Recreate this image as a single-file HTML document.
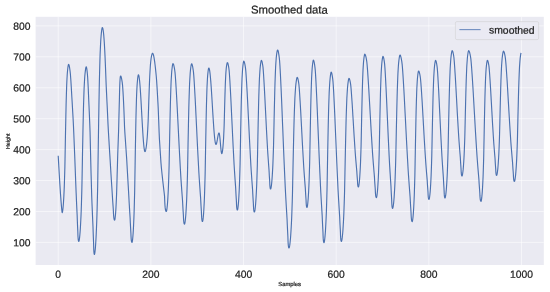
<!DOCTYPE html>
<html><head><meta charset="utf-8"><title>Smoothed data</title>
<style>
html,body{margin:0;padding:0;background:#fff;}
body{width:550px;height:292px;overflow:hidden;}
svg{display:block;font-family:"Liberation Sans",sans-serif;}
</style></head><body>
<svg width="550" height="292" viewBox="0 0 550 292">
<rect x="0" y="0" width="550" height="292" fill="#ffffff"/>
<rect x="35.60" y="16.80" width="508.20" height="248.20" fill="#eaeaf2"/>
<g stroke="#ffffff" stroke-width="0.55" fill="none"><line x1="58.20" y1="16.80" x2="58.20" y2="265.00"/><line x1="150.86" y1="16.80" x2="150.86" y2="265.00"/><line x1="243.52" y1="16.80" x2="243.52" y2="265.00"/><line x1="336.18" y1="16.80" x2="336.18" y2="265.00"/><line x1="428.84" y1="16.80" x2="428.84" y2="265.00"/><line x1="521.50" y1="16.80" x2="521.50" y2="265.00"/><line x1="35.60" y1="242.40" x2="543.80" y2="242.40"/><line x1="35.60" y1="211.47" x2="543.80" y2="211.47"/><line x1="35.60" y1="180.54" x2="543.80" y2="180.54"/><line x1="35.60" y1="149.61" x2="543.80" y2="149.61"/><line x1="35.60" y1="118.68" x2="543.80" y2="118.68"/><line x1="35.60" y1="87.75" x2="543.80" y2="87.75"/><line x1="35.60" y1="56.82" x2="543.80" y2="56.82"/><line x1="35.60" y1="25.89" x2="543.80" y2="25.89"/></g>
<path d="M58.20 155.80 L58.70 164.50 L59.25 174.00 L59.85 184.00 L60.50 194.00 L61.10 202.00 L61.60 208.00 L61.95 211.30 L62.20 212.60 L62.36 212.37 L62.54 211.69 L62.72 210.55 L62.92 208.97 L63.12 206.96 L63.33 204.52 L63.53 201.68 L63.72 198.45 L63.91 194.85 L64.10 190.90 L64.28 186.62 L64.43 182.05 L64.58 177.22 L64.73 172.14 L64.88 166.86 L64.98 161.40 L65.09 155.80 L65.19 150.09 L65.30 144.31 L65.40 138.50 L65.51 132.69 L65.63 126.91 L65.75 121.20 L65.86 115.60 L65.98 110.14 L66.10 104.86 L66.23 99.78 L66.37 94.95 L66.52 90.38 L66.66 86.10 L66.81 82.15 L67.00 78.55 L67.19 75.32 L67.38 72.48 L67.61 70.04 L67.83 68.03 L68.05 66.45 L68.25 65.31 L68.43 64.63 L68.60 64.40 L68.86 64.67 L69.14 65.49 L69.44 66.85 L69.74 68.73 L70.07 71.14 L70.39 74.05 L70.65 77.44 L70.92 81.30 L71.18 85.60 L71.45 90.32 L71.75 95.42 L72.08 100.88 L72.42 106.66 L72.76 112.72 L73.11 119.03 L73.45 125.55 L73.74 132.24 L74.02 139.06 L74.31 145.96 L74.60 152.90 L74.87 159.84 L75.13 166.74 L75.38 173.56 L75.64 180.25 L75.89 186.77 L76.15 193.08 L76.40 199.14 L76.66 204.92 L76.91 210.38 L77.16 215.48 L77.32 220.20 L77.49 224.50 L77.67 228.36 L77.83 231.75 L77.91 234.66 L78.03 237.07 L78.18 238.95 L78.35 240.31 L78.56 241.13 L78.80 241.40 L78.99 241.13 L79.19 240.33 L79.41 238.99 L79.63 237.13 L79.87 234.75 L80.11 231.88 L80.34 228.54 L80.55 224.73 L80.78 220.48 L81.00 215.83 L81.20 210.80 L81.38 205.41 L81.55 199.71 L81.73 193.73 L81.89 187.51 L82.02 181.08 L82.14 174.48 L82.26 167.76 L82.38 160.95 L82.50 154.10 L82.63 147.25 L82.77 140.44 L82.90 133.72 L83.03 127.12 L83.17 120.69 L83.31 114.47 L83.46 108.49 L83.62 102.79 L83.79 97.40 L83.96 92.37 L84.13 87.72 L84.35 83.47 L84.57 79.66 L84.79 76.32 L85.05 73.45 L85.32 71.07 L85.56 69.21 L85.79 67.87 L86.01 67.07 L86.20 66.80 L86.41 67.09 L86.64 67.95 L86.87 69.39 L87.12 71.39 L87.38 73.94 L87.64 77.02 L87.85 80.62 L88.06 84.71 L88.28 89.27 L88.49 94.27 L88.73 99.68 L88.99 105.47 L89.25 111.59 L89.52 118.02 L89.79 124.70 L90.05 131.61 L90.22 138.70 L90.39 145.93 L90.56 153.24 L90.73 160.60 L90.92 167.96 L91.12 175.27 L91.33 182.50 L91.53 189.59 L91.73 196.50 L91.98 203.18 L92.25 209.61 L92.50 215.73 L92.76 221.52 L93.00 226.93 L93.16 231.93 L93.32 236.49 L93.48 240.58 L93.62 244.18 L93.69 247.26 L93.78 249.81 L93.90 251.81 L94.04 253.25 L94.21 254.11 L94.40 254.40 L94.60 254.05 L94.82 253.00 L95.05 251.27 L95.29 248.85 L95.54 245.77 L95.80 242.04 L96.04 237.69 L96.27 232.74 L96.51 227.23 L96.75 221.19 L96.96 214.65 L97.15 207.65 L97.34 200.25 L97.53 192.48 L97.70 184.40 L97.83 176.04 L97.96 167.47 L98.09 158.74 L98.22 149.90 L98.35 141.00 L98.49 132.10 L98.63 123.26 L98.78 114.53 L98.92 105.96 L99.07 97.60 L99.21 89.52 L99.37 81.75 L99.55 74.35 L99.73 67.35 L99.91 60.81 L100.09 54.77 L100.33 49.26 L100.56 44.31 L100.79 39.96 L101.07 36.23 L101.36 33.15 L101.62 30.73 L101.87 29.00 L102.09 27.95 L102.30 27.60 L102.60 27.90 L102.90 28.79 L103.18 30.26 L103.45 32.31 L103.72 34.93 L103.98 38.10 L104.24 41.79 L104.50 45.99 L104.75 50.67 L105.00 55.81 L105.24 61.36 L105.49 67.30 L105.73 73.58 L105.98 80.18 L106.25 87.05 L106.60 94.14 L106.95 101.42 L107.31 108.84 L107.66 116.34 L108.00 123.90 L108.40 131.46 L108.85 138.96 L109.29 146.38 L109.74 153.66 L110.18 160.75 L110.59 167.62 L110.99 174.22 L111.39 180.50 L111.79 186.44 L112.14 191.99 L112.45 197.13 L112.75 201.81 L113.06 206.01 L113.31 209.70 L113.45 212.87 L113.62 215.49 L113.82 217.54 L114.05 219.01 L114.31 219.90 L114.60 220.20 L114.75 219.98 L114.92 219.31 L115.09 218.21 L115.27 216.67 L115.46 214.71 L115.66 212.34 L115.85 209.58 L116.02 206.43 L116.20 202.93 L116.38 199.08 L116.55 194.93 L116.69 190.48 L116.83 185.77 L116.98 180.83 L117.12 175.69 L117.28 170.38 L117.44 164.93 L117.59 159.38 L117.76 153.76 L117.97 148.10 L118.17 142.44 L118.37 136.82 L118.57 131.27 L118.72 125.82 L118.85 120.51 L118.97 115.37 L119.10 110.43 L119.22 105.72 L119.35 101.27 L119.46 97.12 L119.54 93.27 L119.63 89.77 L119.73 86.62 L119.83 83.86 L119.94 81.49 L120.06 79.53 L120.18 77.99 L120.31 76.89 L120.45 76.22 L120.60 76.00 L120.89 76.26 L121.20 77.02 L121.52 78.30 L121.85 80.07 L122.20 82.33 L122.53 85.07 L122.77 88.26 L123.01 91.89 L123.25 95.93 L123.48 100.37 L123.70 105.17 L123.92 110.30 L124.14 115.73 L124.35 121.43 L124.56 127.36 L124.92 133.49 L125.36 139.78 L125.81 146.18 L126.25 152.67 L126.70 159.20 L127.07 165.73 L127.44 172.22 L127.81 178.62 L128.18 184.91 L128.53 191.04 L128.86 196.97 L129.17 202.67 L129.49 208.10 L129.81 213.23 L130.11 218.03 L130.31 222.47 L130.52 226.51 L130.73 230.14 L130.91 233.33 L131.01 236.07 L131.14 238.33 L131.30 240.10 L131.50 241.38 L131.73 242.14 L132.00 242.40 L132.16 242.14 L132.34 241.37 L132.52 240.08 L132.72 238.30 L132.92 236.02 L133.13 233.27 L133.33 230.05 L133.52 226.40 L133.71 222.32 L133.90 217.86 L134.08 213.02 L134.23 207.86 L134.38 202.39 L134.53 196.64 L134.68 190.67 L134.78 184.50 L134.89 178.16 L134.99 171.71 L135.10 165.17 L135.20 158.60 L135.31 152.03 L135.43 145.49 L135.55 139.04 L135.66 132.70 L135.78 126.53 L135.90 120.56 L136.03 114.81 L136.17 109.34 L136.32 104.18 L136.46 99.34 L136.61 94.88 L136.80 90.80 L136.99 87.15 L137.18 83.93 L137.41 81.18 L137.63 78.90 L137.85 77.12 L138.05 75.83 L138.23 75.06 L138.40 74.80 L138.56 74.92 L138.73 75.27 L138.90 75.86 L139.06 76.68 L139.22 77.72 L139.39 78.99 L139.56 80.46 L139.72 82.13 L139.88 84.00 L140.05 86.05 L140.22 88.26 L140.38 90.63 L140.55 93.14 L140.71 95.77 L140.88 98.50 L141.04 101.33 L141.21 104.24 L141.37 107.19 L141.53 110.19 L141.70 113.20 L141.87 116.21 L142.03 119.21 L142.19 122.16 L142.36 125.07 L142.53 127.90 L142.69 130.63 L142.85 133.26 L143.02 135.77 L143.19 138.14 L143.35 140.35 L143.52 142.40 L143.68 144.27 L143.84 145.94 L144.01 147.41 L144.18 148.68 L144.34 149.72 L144.50 150.54 L144.67 151.13 L144.84 151.48 L145.00 151.60 L145.19 151.45 L145.40 150.99 L145.61 150.24 L145.84 149.19 L146.08 147.86 L146.33 146.24 L146.56 144.36 L146.78 142.21 L147.00 139.82 L147.23 137.20 L147.43 134.37 L147.61 131.34 L147.79 128.13 L147.97 124.76 L148.14 121.26 L148.26 117.64 L148.38 113.92 L148.51 110.14 L148.63 106.31 L148.75 102.45 L148.88 98.59 L149.02 94.76 L149.15 90.98 L149.29 87.26 L149.43 83.64 L149.57 80.14 L149.72 76.77 L149.89 73.56 L150.06 70.53 L150.23 67.70 L150.40 65.08 L150.63 62.69 L150.85 60.54 L151.07 58.66 L151.33 57.04 L151.60 55.71 L151.85 54.66 L152.09 53.91 L152.30 53.45 L152.50 53.30 L152.85 53.54 L153.20 54.27 L153.57 55.49 L153.93 57.17 L154.31 59.32 L154.69 61.92 L155.08 64.96 L155.47 68.41 L155.87 72.25 L156.28 76.47 L156.64 81.03 L156.96 85.91 L157.27 91.07 L157.58 96.49 L157.89 102.13 L158.20 107.96 L158.44 113.93 L158.67 120.03 L158.90 126.19 L159.13 132.40 L159.40 138.61 L159.79 144.77 L160.18 150.87 L160.57 156.84 L160.96 162.67 L161.44 168.31 L162.00 173.73 L162.56 178.89 L163.10 183.77 L163.63 188.33 L164.14 192.55 L164.57 196.39 L164.68 199.84 L164.82 202.88 L164.98 205.48 L165.18 207.63 L165.41 209.31 L165.68 210.53 L165.97 211.26 L166.30 211.50 L166.47 211.27 L166.66 210.59 L166.85 209.46 L167.05 207.88 L167.27 205.87 L167.49 203.44 L167.69 200.60 L167.89 197.38 L168.09 193.78 L168.29 189.84 L168.47 185.58 L168.63 181.02 L168.79 176.19 L168.95 171.12 L169.10 165.85 L169.21 160.40 L169.32 154.81 L169.43 149.12 L169.54 143.35 L169.65 137.55 L169.77 131.75 L169.89 125.98 L170.01 120.29 L170.13 114.70 L170.26 109.25 L170.38 103.98 L170.52 98.91 L170.67 94.08 L170.82 89.52 L170.97 85.26 L171.12 81.32 L171.33 77.72 L171.53 74.50 L171.72 71.66 L171.96 69.23 L172.20 67.22 L172.42 65.64 L172.63 64.51 L172.82 63.83 L173.00 63.60 L173.30 63.85 L173.61 64.59 L173.94 65.82 L174.29 67.53 L174.66 69.71 L175.01 72.35 L175.28 75.43 L175.54 78.94 L175.80 82.84 L176.06 87.12 L176.34 91.75 L176.62 96.70 L176.91 101.94 L177.20 107.44 L177.49 113.17 L177.78 119.09 L178.09 125.15 L178.40 131.34 L178.71 137.60 L179.02 143.90 L179.35 150.20 L179.69 156.46 L180.02 162.65 L180.36 168.71 L180.69 174.63 L181.06 180.36 L181.44 185.86 L181.82 191.10 L182.19 196.05 L182.54 200.68 L182.76 204.96 L182.98 208.86 L183.21 212.37 L183.40 215.45 L183.50 218.09 L183.63 220.27 L183.80 221.98 L184.00 223.21 L184.23 223.95 L184.50 224.20 L184.68 223.95 L184.88 223.21 L185.08 221.98 L185.30 220.27 L185.52 218.10 L185.76 215.46 L185.97 212.38 L186.18 208.88 L186.40 204.98 L186.61 200.71 L186.80 196.09 L186.97 191.14 L187.14 185.90 L187.31 180.41 L187.47 174.69 L187.59 168.78 L187.70 162.72 L187.82 156.55 L187.94 150.29 L188.05 144.00 L188.18 137.71 L188.31 131.45 L188.43 125.28 L188.56 119.22 L188.69 113.31 L188.82 107.59 L188.97 102.10 L189.13 96.86 L189.29 91.91 L189.45 87.29 L189.61 83.02 L189.83 79.12 L190.04 75.62 L190.24 72.54 L190.50 69.90 L190.75 67.73 L190.99 66.02 L191.21 64.79 L191.41 64.05 L191.60 63.80 L191.88 64.04 L192.18 64.77 L192.49 65.98 L192.82 67.66 L193.17 69.80 L193.50 72.39 L193.76 75.42 L194.01 78.86 L194.26 82.69 L194.50 86.89 L194.76 91.44 L195.03 96.30 L195.31 101.45 L195.58 106.85 L195.85 112.48 L196.13 118.28 L196.42 124.24 L196.72 130.32 L197.01 136.46 L197.31 142.65 L197.62 148.84 L197.94 154.98 L198.26 161.06 L198.58 167.02 L198.89 172.82 L199.24 178.45 L199.60 183.85 L199.96 189.00 L200.31 193.86 L200.64 198.41 L200.85 202.61 L201.06 206.44 L201.28 209.88 L201.46 212.91 L201.55 215.50 L201.68 217.64 L201.83 219.32 L202.02 220.53 L202.24 221.26 L202.50 221.50 L202.66 221.26 L202.83 220.56 L203.02 219.38 L203.21 217.74 L203.41 215.66 L203.62 213.13 L203.81 210.19 L203.99 206.84 L204.18 203.11 L204.37 199.02 L204.54 194.60 L204.69 189.86 L204.84 184.85 L204.99 179.59 L205.13 174.12 L205.24 168.47 L205.34 162.67 L205.45 156.76 L205.55 150.77 L205.65 144.75 L205.76 138.73 L205.88 132.74 L205.99 126.83 L206.10 121.03 L206.22 115.38 L206.34 109.91 L206.46 104.65 L206.61 99.64 L206.75 94.90 L206.89 90.48 L207.04 86.39 L207.23 82.66 L207.41 79.31 L207.60 76.37 L207.82 73.84 L208.05 71.76 L208.26 70.12 L208.45 68.94 L208.63 68.24 L208.80 68.00 L208.98 68.12 L209.16 68.47 L209.34 69.06 L209.52 69.87 L209.70 70.91 L209.88 72.16 L210.06 73.63 L210.24 75.30 L210.42 77.15 L210.60 79.19 L210.78 81.39 L210.96 83.75 L211.14 86.24 L211.32 88.86 L211.50 91.58 L211.68 94.40 L211.86 97.28 L212.04 100.22 L212.22 103.20 L212.40 106.20 L212.58 109.20 L212.76 112.18 L212.94 115.12 L213.12 118.00 L213.30 120.82 L213.48 123.54 L213.66 126.16 L213.84 128.65 L214.02 131.01 L214.20 133.21 L214.38 135.25 L214.56 137.10 L214.74 138.77 L214.92 140.24 L215.10 141.49 L215.28 142.53 L215.46 143.34 L215.64 143.93 L215.82 144.28 L216.00 144.40 L216.07 144.38 L216.15 144.33 L216.22 144.24 L216.30 144.12 L216.38 143.97 L216.45 143.78 L216.53 143.56 L216.60 143.31 L216.68 143.03 L216.75 142.73 L216.82 142.40 L216.90 142.05 L216.97 141.68 L217.05 141.29 L217.12 140.88 L217.20 140.46 L217.28 140.03 L217.35 139.59 L217.43 139.15 L217.50 138.70 L217.57 138.25 L217.65 137.81 L217.72 137.37 L217.80 136.94 L217.88 136.52 L217.95 136.11 L218.03 135.72 L218.10 135.35 L218.18 135.00 L218.25 134.67 L218.32 134.37 L218.40 134.09 L218.47 133.84 L218.55 133.62 L218.62 133.43 L218.70 133.28 L218.78 133.16 L218.85 133.07 L218.93 133.02 L219.00 133.00 L219.07 133.03 L219.14 133.13 L219.21 133.28 L219.28 133.50 L219.35 133.78 L219.42 134.12 L219.49 134.52 L219.56 134.97 L219.63 135.47 L219.70 136.02 L219.77 136.61 L219.84 137.25 L219.91 137.92 L219.98 138.62 L220.05 139.36 L220.12 140.12 L220.19 140.90 L220.26 141.69 L220.33 142.49 L220.40 143.30 L220.47 144.11 L220.54 144.91 L220.61 145.70 L220.68 146.48 L220.75 147.24 L220.82 147.98 L220.89 148.68 L220.96 149.35 L221.03 149.99 L221.10 150.58 L221.17 151.13 L221.24 151.63 L221.31 152.08 L221.38 152.48 L221.45 152.82 L221.52 153.10 L221.59 153.32 L221.66 153.47 L221.73 153.57 L221.80 153.60 L221.94 153.46 L222.10 153.04 L222.26 152.34 L222.43 151.37 L222.61 150.14 L222.79 148.64 L222.96 146.90 L223.13 144.91 L223.29 142.70 L223.46 140.27 L223.62 137.65 L223.75 134.84 L223.88 131.87 L224.02 128.76 L224.14 125.51 L224.23 122.16 L224.33 118.72 L224.42 115.22 L224.51 111.67 L224.60 108.10 L224.70 104.53 L224.80 100.98 L224.90 97.48 L225.00 94.04 L225.11 90.69 L225.21 87.44 L225.32 84.33 L225.45 81.36 L225.58 78.55 L225.70 75.93 L225.83 73.50 L226.00 71.29 L226.17 69.30 L226.33 67.56 L226.53 66.06 L226.73 64.83 L226.92 63.86 L227.09 63.16 L227.25 62.74 L227.40 62.60 L227.66 62.83 L227.93 63.51 L228.22 64.64 L228.52 66.21 L228.84 68.21 L229.15 70.63 L229.38 73.46 L229.61 76.68 L229.84 80.26 L230.06 84.19 L230.30 88.44 L230.55 92.98 L230.80 97.79 L231.05 102.84 L231.30 108.10 L231.55 113.53 L231.82 119.10 L232.10 124.77 L232.37 130.52 L232.64 136.30 L232.92 142.08 L233.21 147.83 L233.51 153.50 L233.80 159.07 L234.09 164.50 L234.41 169.76 L234.74 174.81 L235.07 179.62 L235.39 184.16 L235.69 188.41 L235.88 192.34 L236.08 195.92 L236.28 199.14 L236.44 201.97 L236.53 204.39 L236.64 206.39 L236.79 207.96 L236.96 209.09 L237.17 209.77 L237.40 210.00 L237.56 209.77 L237.74 209.08 L237.92 207.94 L238.12 206.36 L238.32 204.34 L238.53 201.89 L238.73 199.04 L238.92 195.79 L239.11 192.17 L239.30 188.21 L239.48 183.92 L239.63 179.33 L239.78 174.47 L239.93 169.38 L240.08 164.07 L240.18 158.59 L240.29 152.97 L240.39 147.24 L240.50 141.44 L240.60 135.60 L240.71 129.76 L240.83 123.96 L240.95 118.23 L241.06 112.61 L241.18 107.13 L241.30 101.82 L241.43 96.73 L241.57 91.87 L241.72 87.28 L241.86 82.99 L242.01 79.03 L242.20 75.41 L242.39 72.16 L242.58 69.31 L242.81 66.86 L243.03 64.84 L243.25 63.26 L243.45 62.12 L243.63 61.43 L243.80 61.20 L244.07 61.43 L244.36 62.13 L244.67 63.28 L244.99 64.89 L245.33 66.94 L245.65 69.42 L245.90 72.31 L246.14 75.60 L246.38 79.27 L246.62 83.28 L246.87 87.63 L247.14 92.28 L247.40 97.20 L247.67 102.37 L247.93 107.75 L248.20 113.30 L248.49 119.00 L248.78 124.80 L249.07 130.68 L249.35 136.60 L249.65 142.52 L249.96 148.40 L250.27 154.20 L250.58 159.90 L250.89 165.45 L251.23 170.83 L251.58 176.00 L251.93 180.92 L252.27 185.57 L252.59 189.92 L252.79 193.93 L253.00 197.60 L253.21 200.89 L253.39 203.78 L253.48 206.26 L253.60 208.31 L253.75 209.92 L253.94 211.07 L254.15 211.77 L254.40 212.00 L254.58 211.77 L254.77 211.07 L254.97 209.91 L255.19 208.29 L255.41 206.23 L255.64 203.74 L255.85 200.83 L256.06 197.52 L256.27 193.84 L256.48 189.80 L256.67 185.43 L256.84 180.75 L257.01 175.81 L257.17 170.61 L257.33 165.21 L257.44 159.62 L257.56 153.90 L257.67 148.06 L257.79 142.15 L257.90 136.20 L258.03 130.25 L258.15 124.34 L258.28 118.50 L258.41 112.78 L258.53 107.19 L258.66 101.79 L258.80 96.59 L258.96 91.65 L259.12 86.97 L259.28 82.60 L259.44 78.56 L259.65 74.88 L259.86 71.57 L260.06 68.66 L260.31 66.17 L260.56 64.11 L260.80 62.49 L261.02 61.33 L261.22 60.63 L261.40 60.40 L261.64 60.60 L261.89 61.19 L262.15 62.18 L262.43 63.55 L262.73 65.29 L263.01 67.41 L263.22 69.88 L263.43 72.68 L263.64 75.81 L263.85 79.23 L264.07 82.94 L264.30 86.91 L264.53 91.10 L264.76 95.51 L264.99 100.09 L265.22 104.83 L265.47 109.69 L265.72 114.64 L265.97 119.66 L266.22 124.70 L266.48 129.74 L266.75 134.76 L267.02 139.71 L267.29 144.57 L267.56 149.31 L267.85 153.89 L268.16 158.30 L268.46 162.49 L268.75 166.46 L269.03 170.17 L269.20 173.59 L269.38 176.72 L269.57 179.52 L269.72 181.99 L269.80 184.11 L269.91 185.85 L270.04 187.22 L270.20 188.21 L270.38 188.80 L270.60 189.00 L270.78 188.79 L270.97 188.14 L271.17 187.08 L271.39 185.60 L271.61 183.71 L271.84 181.42 L272.05 178.76 L272.26 175.73 L272.47 172.35 L272.68 168.64 L272.87 164.64 L273.04 160.35 L273.21 155.81 L273.37 151.05 L273.53 146.10 L273.64 140.98 L273.76 135.72 L273.87 130.37 L273.99 124.95 L274.10 119.50 L274.23 114.05 L274.35 108.63 L274.48 103.28 L274.61 98.02 L274.73 92.90 L274.86 87.95 L275.00 83.19 L275.16 78.65 L275.32 74.36 L275.48 70.36 L275.64 66.65 L275.85 63.27 L276.06 60.24 L276.26 57.58 L276.51 55.29 L276.76 53.40 L277.00 51.92 L277.22 50.86 L277.42 50.21 L277.60 50.00 L277.89 50.31 L278.21 51.22 L278.53 52.74 L278.88 54.85 L279.24 57.54 L279.59 60.79 L279.86 64.59 L280.12 68.91 L280.38 73.72 L280.64 79.00 L280.91 84.70 L281.19 90.81 L281.48 97.27 L281.76 104.05 L282.05 111.11 L282.33 118.41 L282.64 125.89 L282.95 133.51 L283.26 141.23 L283.57 149.00 L283.89 156.77 L284.23 164.49 L284.56 172.11 L284.90 179.59 L285.23 186.89 L285.59 193.95 L285.97 200.73 L286.34 207.19 L286.71 213.30 L287.05 219.00 L287.27 224.28 L287.49 229.09 L287.72 233.41 L287.91 237.21 L288.01 240.46 L288.14 243.15 L288.30 245.26 L288.50 246.78 L288.73 247.69 L289.00 248.00 L289.21 247.74 L289.44 246.95 L289.67 245.64 L289.92 243.83 L290.18 241.51 L290.45 238.70 L290.70 235.43 L290.94 231.71 L291.19 227.56 L291.44 223.02 L291.66 218.10 L291.86 212.84 L292.05 207.27 L292.25 201.43 L292.43 195.34 L292.57 189.06 L292.70 182.61 L292.83 176.04 L292.97 169.39 L293.10 162.70 L293.25 156.01 L293.39 149.36 L293.54 142.79 L293.69 136.34 L293.84 130.06 L293.99 123.97 L294.16 118.13 L294.34 112.56 L294.53 107.30 L294.72 102.38 L294.90 97.84 L295.15 93.69 L295.40 89.97 L295.63 86.70 L295.93 83.89 L296.22 81.57 L296.49 79.76 L296.75 78.45 L296.98 77.66 L297.20 77.40 L297.45 77.60 L297.72 78.20 L298.00 79.20 L298.30 80.58 L298.61 82.35 L298.91 84.48 L299.14 86.98 L299.36 89.81 L299.59 92.97 L299.81 96.44 L300.04 100.19 L300.29 104.19 L300.53 108.44 L300.78 112.89 L301.02 117.53 L301.27 122.31 L301.54 127.23 L301.80 132.23 L302.07 137.30 L302.33 142.40 L302.61 147.50 L302.90 152.57 L303.19 157.57 L303.47 162.49 L303.76 167.27 L304.07 171.91 L304.40 176.36 L304.72 180.61 L305.03 184.61 L305.33 188.36 L305.51 191.83 L305.71 194.99 L305.90 197.82 L306.06 200.32 L306.15 202.45 L306.26 204.22 L306.40 205.60 L306.57 206.60 L306.77 207.20 L307.00 207.40 L307.16 207.17 L307.34 206.49 L307.52 205.37 L307.72 203.80 L307.92 201.80 L308.13 199.38 L308.33 196.55 L308.52 193.34 L308.71 189.77 L308.90 185.84 L309.08 181.60 L309.23 177.06 L309.38 172.26 L309.53 167.21 L309.68 161.97 L309.78 156.54 L309.89 150.98 L309.99 145.31 L310.10 139.57 L310.20 133.80 L310.31 128.03 L310.43 122.29 L310.55 116.62 L310.66 111.06 L310.78 105.63 L310.90 100.39 L311.03 95.34 L311.17 90.54 L311.32 86.00 L311.46 81.76 L311.61 77.83 L311.80 74.26 L311.99 71.05 L312.18 68.22 L312.41 65.80 L312.63 63.80 L312.85 62.23 L313.05 61.11 L313.23 60.43 L313.40 60.20 L313.67 60.48 L313.96 61.32 L314.27 62.72 L314.59 64.66 L314.93 67.14 L315.25 70.14 L315.50 73.64 L315.74 77.62 L315.98 82.05 L316.22 86.91 L316.47 92.17 L316.74 97.79 L317.00 103.75 L317.27 110.00 L317.53 116.50 L317.80 123.22 L318.09 130.11 L318.38 137.13 L318.67 144.24 L318.95 151.40 L319.25 158.56 L319.56 165.67 L319.87 172.69 L320.18 179.58 L320.49 186.30 L320.83 192.80 L321.18 199.05 L321.53 205.01 L321.87 210.63 L322.19 215.89 L322.39 220.75 L322.60 225.18 L322.81 229.16 L322.99 232.66 L323.08 235.66 L323.20 238.14 L323.35 240.08 L323.54 241.48 L323.75 242.32 L324.00 242.60 L324.19 242.34 L324.38 241.55 L324.59 240.25 L324.81 238.43 L325.04 236.11 L325.28 233.31 L325.50 230.04 L325.71 226.33 L325.92 222.19 L326.14 217.65 L326.34 212.73 L326.51 207.48 L326.68 201.92 L326.85 196.08 L327.01 190.00 L327.13 183.73 L327.25 177.29 L327.37 170.73 L327.48 164.08 L327.60 157.40 L327.73 150.72 L327.86 144.07 L327.99 137.51 L328.12 131.07 L328.25 124.80 L328.39 118.72 L328.53 112.88 L328.69 107.32 L328.85 102.07 L329.02 97.15 L329.18 92.61 L329.40 88.47 L329.62 84.76 L329.83 81.49 L330.08 78.69 L330.34 76.37 L330.58 74.55 L330.80 73.25 L331.01 72.46 L331.20 72.20 L331.46 72.46 L331.74 73.24 L332.04 74.54 L332.34 76.34 L332.67 78.64 L332.98 81.42 L333.22 84.67 L333.45 88.36 L333.69 92.47 L333.92 96.98 L334.16 101.86 L334.41 107.07 L334.67 112.60 L334.92 118.39 L335.18 124.42 L335.44 130.66 L335.71 137.05 L335.99 143.57 L336.27 150.16 L336.54 156.80 L336.83 163.44 L337.13 170.03 L337.43 176.55 L337.73 182.94 L338.02 189.18 L338.35 195.21 L338.69 201.00 L339.02 206.53 L339.35 211.74 L339.66 216.62 L339.85 221.13 L340.05 225.24 L340.26 228.93 L340.43 232.18 L340.51 234.96 L340.63 237.26 L340.78 239.06 L340.95 240.36 L341.16 241.14 L341.40 241.40 L341.60 241.15 L341.80 240.40 L342.02 239.15 L342.25 237.41 L342.49 235.20 L342.75 232.52 L342.98 229.39 L343.20 225.83 L343.43 221.87 L343.66 217.53 L343.87 212.83 L344.05 207.80 L344.23 202.48 L344.41 196.90 L344.58 191.09 L344.70 185.08 L344.83 178.93 L344.95 172.65 L345.08 166.29 L345.20 159.90 L345.34 153.51 L345.47 147.15 L345.61 140.87 L345.75 134.72 L345.89 128.71 L346.03 122.90 L346.18 117.32 L346.35 112.00 L346.52 106.97 L346.70 102.27 L346.87 97.93 L347.10 93.97 L347.33 90.41 L347.55 87.28 L347.82 84.60 L348.09 82.39 L348.35 80.65 L348.58 79.40 L348.80 78.65 L349.00 78.40 L349.24 78.57 L349.50 79.07 L349.77 79.90 L350.06 81.06 L350.35 82.53 L350.64 84.32 L350.86 86.40 L351.08 88.77 L351.29 91.41 L351.50 94.30 L351.73 97.43 L351.96 100.78 L352.20 104.33 L352.43 108.05 L352.67 111.92 L352.90 115.92 L353.16 120.02 L353.41 124.21 L353.67 128.44 L353.92 132.70 L354.19 136.96 L354.47 141.19 L354.74 145.38 L355.02 149.48 L355.29 153.48 L355.59 157.35 L355.90 161.07 L356.21 164.62 L356.51 167.97 L356.79 171.10 L356.97 173.99 L357.16 176.63 L357.35 179.00 L357.50 181.08 L357.58 182.87 L357.69 184.34 L357.82 185.50 L357.99 186.33 L358.18 186.83 L358.40 187.00 L358.56 186.80 L358.74 186.18 L358.92 185.17 L359.12 183.75 L359.32 181.95 L359.53 179.76 L359.73 177.22 L359.92 174.32 L360.11 171.09 L360.30 167.55 L360.48 163.72 L360.63 159.63 L360.78 155.29 L360.93 150.74 L361.08 146.01 L361.18 141.12 L361.29 136.10 L361.39 130.99 L361.50 125.81 L361.60 120.60 L361.71 115.39 L361.83 110.21 L361.95 105.10 L362.06 100.08 L362.18 95.19 L362.30 90.46 L362.43 85.91 L362.57 81.57 L362.72 77.48 L362.86 73.65 L363.01 70.11 L363.20 66.88 L363.39 63.98 L363.58 61.44 L363.81 59.25 L364.03 57.45 L364.25 56.03 L364.45 55.02 L364.63 54.40 L364.80 54.20 L365.10 54.42 L365.42 55.08 L365.75 56.18 L366.10 57.71 L366.47 59.66 L366.83 62.01 L367.10 64.77 L367.36 67.89 L367.63 71.38 L367.89 75.20 L368.16 79.33 L368.45 83.76 L368.74 88.44 L369.03 93.35 L369.32 98.46 L369.62 103.74 L369.93 109.16 L370.25 114.68 L370.56 120.27 L370.88 125.90 L371.20 131.53 L371.55 137.12 L371.88 142.64 L372.22 148.06 L372.56 153.34 L372.94 158.45 L373.32 163.36 L373.70 168.04 L374.07 172.47 L374.42 176.60 L374.64 180.42 L374.87 183.91 L375.10 187.03 L375.29 189.79 L375.39 192.14 L375.52 194.09 L375.69 195.62 L375.89 196.72 L376.13 197.38 L376.40 197.60 L376.57 197.38 L376.75 196.73 L376.94 195.65 L377.14 194.14 L377.35 192.23 L377.57 189.91 L377.77 187.20 L377.96 184.12 L378.16 180.68 L378.36 176.92 L378.54 172.85 L378.70 168.50 L378.86 163.89 L379.01 159.05 L379.16 154.02 L379.27 148.82 L379.38 143.48 L379.49 138.04 L379.59 132.54 L379.70 127.00 L379.82 121.46 L379.94 115.96 L380.06 110.52 L380.18 105.18 L380.30 99.98 L380.42 94.95 L380.55 90.11 L380.70 85.50 L380.85 81.15 L381.00 77.08 L381.15 73.32 L381.35 69.88 L381.55 66.80 L381.74 64.09 L381.97 61.77 L382.21 59.86 L382.43 58.35 L382.64 57.27 L382.83 56.62 L383.00 56.40 L383.25 56.63 L383.51 57.34 L383.79 58.50 L384.08 60.12 L384.38 62.19 L384.68 64.68 L384.90 67.60 L385.12 70.91 L385.34 74.61 L385.56 78.66 L385.78 83.04 L386.02 87.73 L386.26 92.69 L386.50 97.90 L386.74 103.32 L386.99 108.91 L387.25 114.66 L387.51 120.51 L387.77 126.44 L388.03 132.40 L388.30 138.36 L388.58 144.29 L388.86 150.14 L389.14 155.89 L389.42 161.48 L389.73 166.90 L390.05 172.11 L390.36 177.07 L390.67 181.76 L390.96 186.14 L391.14 190.19 L391.33 193.89 L391.53 197.20 L391.68 200.12 L391.77 202.61 L391.87 204.68 L392.01 206.30 L392.18 207.46 L392.37 208.17 L392.60 208.40 L392.79 208.16 L392.99 207.46 L393.21 206.28 L393.43 204.65 L393.67 202.56 L393.91 200.04 L394.14 197.10 L394.35 193.75 L394.58 190.02 L394.80 185.94 L395.00 181.51 L395.18 176.78 L395.35 171.78 L395.53 166.52 L395.69 161.05 L395.82 155.40 L395.94 149.61 L396.06 143.70 L396.18 137.72 L396.30 131.70 L396.43 125.68 L396.57 119.70 L396.70 113.79 L396.83 108.00 L396.97 102.35 L397.11 96.88 L397.26 91.62 L397.42 86.62 L397.59 81.89 L397.76 77.46 L397.93 73.38 L398.15 69.65 L398.37 66.30 L398.59 63.36 L398.85 60.84 L399.12 58.75 L399.36 57.12 L399.59 55.94 L399.81 55.24 L400.00 55.00 L400.31 55.26 L400.65 56.03 L401.00 57.30 L401.37 59.08 L401.76 61.34 L402.13 64.08 L402.41 67.28 L402.69 70.91 L402.97 74.96 L403.25 79.40 L403.54 84.20 L403.84 89.34 L404.15 94.78 L404.45 100.48 L404.76 106.42 L405.07 112.56 L405.40 118.85 L405.73 125.27 L406.06 131.76 L406.39 138.30 L406.74 144.84 L407.09 151.33 L407.45 157.75 L407.81 164.04 L408.16 170.18 L408.56 176.12 L408.96 181.82 L409.36 187.26 L409.75 192.40 L410.12 197.20 L410.35 201.64 L410.59 205.69 L410.83 209.32 L411.03 212.52 L411.14 215.26 L411.28 217.52 L411.45 219.30 L411.67 220.57 L411.91 221.34 L412.20 221.60 L412.36 221.37 L412.54 220.67 L412.72 219.52 L412.92 217.91 L413.12 215.87 L413.33 213.39 L413.53 210.50 L413.72 207.22 L413.91 203.56 L414.10 199.55 L414.28 195.20 L414.43 190.56 L414.58 185.64 L414.73 180.49 L414.88 175.12 L414.98 169.57 L415.09 163.88 L415.19 158.08 L415.30 152.21 L415.40 146.30 L415.51 140.39 L415.63 134.52 L415.75 128.72 L415.86 123.03 L415.98 117.48 L416.10 112.11 L416.23 106.96 L416.37 102.04 L416.52 97.40 L416.66 93.05 L416.81 89.04 L417.00 85.38 L417.19 82.10 L417.38 79.21 L417.61 76.73 L417.83 74.69 L418.05 73.08 L418.25 71.93 L418.43 71.23 L418.60 71.00 L418.87 71.20 L419.15 71.79 L419.45 72.77 L419.77 74.14 L420.10 75.89 L420.42 78.00 L420.66 80.46 L420.90 83.26 L421.13 86.38 L421.37 89.80 L421.62 93.51 L421.88 97.46 L422.14 101.66 L422.40 106.05 L422.66 110.63 L422.92 115.36 L423.20 120.21 L423.48 125.16 L423.77 130.16 L424.05 135.20 L424.34 140.24 L424.65 145.24 L424.95 150.19 L425.26 155.04 L425.56 159.77 L425.89 164.35 L426.24 168.74 L426.58 172.94 L426.91 176.89 L427.22 180.60 L427.42 184.02 L427.63 187.14 L427.84 189.94 L428.01 192.40 L428.10 194.51 L428.21 196.26 L428.36 197.63 L428.54 198.61 L428.76 199.20 L429.00 199.40 L429.17 199.19 L429.35 198.54 L429.54 197.48 L429.74 196.00 L429.95 194.11 L430.17 191.82 L430.37 189.16 L430.56 186.13 L430.76 182.75 L430.96 179.04 L431.14 175.04 L431.30 170.75 L431.46 166.21 L431.61 161.45 L431.76 156.50 L431.87 151.38 L431.98 146.12 L432.09 140.77 L432.19 135.35 L432.30 129.90 L432.42 124.45 L432.54 119.03 L432.66 113.68 L432.78 108.42 L432.90 103.30 L433.02 98.35 L433.15 93.59 L433.30 89.05 L433.45 84.76 L433.60 80.76 L433.75 77.05 L433.95 73.67 L434.15 70.64 L434.34 67.98 L434.57 65.69 L434.81 63.80 L435.03 62.32 L435.24 61.26 L435.43 60.61 L435.60 60.40 L435.84 60.61 L436.10 61.25 L436.37 62.30 L436.66 63.77 L436.95 65.64 L437.24 67.90 L437.46 70.54 L437.68 73.54 L437.89 76.88 L438.10 80.55 L438.33 84.52 L438.56 88.76 L438.80 93.25 L439.03 97.97 L439.27 102.87 L439.50 107.94 L439.76 113.14 L440.01 118.44 L440.27 123.80 L440.52 129.20 L440.79 134.60 L441.07 139.96 L441.34 145.26 L441.62 150.46 L441.89 155.53 L442.19 160.43 L442.50 165.15 L442.81 169.64 L443.11 173.88 L443.39 177.85 L443.57 181.52 L443.76 184.86 L443.95 187.86 L444.10 190.50 L444.18 192.76 L444.29 194.63 L444.42 196.10 L444.59 197.15 L444.78 197.79 L445.00 198.00 L445.19 197.77 L445.38 197.09 L445.59 195.97 L445.81 194.40 L446.04 192.39 L446.28 189.97 L446.50 187.15 L446.71 183.93 L446.92 180.35 L447.14 176.43 L447.34 172.18 L447.51 167.64 L447.68 162.83 L447.85 157.79 L448.01 152.53 L448.13 147.11 L448.25 141.54 L448.37 135.87 L448.48 130.13 L448.60 124.35 L448.73 118.57 L448.86 112.83 L448.99 107.16 L449.12 101.59 L449.25 96.17 L449.39 90.91 L449.53 85.87 L449.69 81.06 L449.85 76.52 L450.02 72.27 L450.18 68.35 L450.40 64.77 L450.62 61.55 L450.83 58.73 L451.08 56.31 L451.34 54.30 L451.58 52.73 L451.80 51.61 L452.01 50.93 L452.20 50.70 L452.45 50.89 L452.72 51.47 L453.00 52.43 L453.30 53.77 L453.61 55.47 L453.91 57.53 L454.14 59.93 L454.36 62.67 L454.59 65.71 L454.81 69.05 L455.04 72.66 L455.29 76.53 L455.53 80.62 L455.78 84.91 L456.02 89.37 L456.27 93.99 L456.54 98.72 L456.80 103.55 L457.07 108.43 L457.33 113.35 L457.61 118.27 L457.90 123.15 L458.19 127.98 L458.47 132.71 L458.76 137.33 L459.07 141.79 L459.40 146.08 L459.72 150.17 L460.03 154.04 L460.33 157.65 L460.51 160.99 L460.71 164.03 L460.90 166.77 L461.06 169.17 L461.15 171.23 L461.26 172.93 L461.40 174.27 L461.57 175.23 L461.77 175.81 L462.00 176.00 L462.17 175.81 L462.36 175.23 L462.55 174.27 L462.75 172.93 L462.97 171.23 L463.19 169.17 L463.39 166.77 L463.59 164.03 L463.79 160.99 L463.99 157.65 L464.17 154.04 L464.33 150.17 L464.49 146.08 L464.65 141.79 L464.80 137.33 L464.91 132.71 L465.02 127.98 L465.13 123.15 L465.24 118.27 L465.35 113.35 L465.47 108.43 L465.59 103.55 L465.71 98.72 L465.83 93.99 L465.96 89.37 L466.08 84.91 L466.22 80.62 L466.37 76.53 L466.52 72.66 L466.67 69.05 L466.82 65.71 L467.03 62.67 L467.23 59.93 L467.42 57.53 L467.66 55.47 L467.90 53.77 L468.12 52.43 L468.33 51.47 L468.52 50.89 L468.70 50.70 L469.02 50.93 L469.35 51.63 L469.71 52.78 L470.08 54.39 L470.47 56.44 L470.85 58.91 L471.13 61.80 L471.42 65.09 L471.70 68.75 L471.97 72.77 L472.27 77.11 L472.57 81.76 L472.88 86.68 L473.19 91.84 L473.50 97.21 L473.81 102.77 L474.14 108.46 L474.48 114.26 L474.81 120.14 L475.14 126.05 L475.49 131.96 L475.85 137.84 L476.21 143.64 L476.57 149.33 L476.93 154.89 L477.33 160.26 L477.73 165.42 L478.13 170.34 L478.53 174.99 L478.90 179.33 L479.13 183.35 L479.38 187.01 L479.62 190.30 L479.83 193.19 L479.93 195.66 L480.07 197.71 L480.25 199.32 L480.46 200.47 L480.71 201.17 L481.00 201.40 L481.16 201.18 L481.34 200.53 L481.52 199.45 L481.72 197.95 L481.92 196.03 L482.13 193.72 L482.33 191.01 L482.52 187.94 L482.71 184.51 L482.90 180.75 L483.08 176.69 L483.23 172.34 L483.38 167.74 L483.53 162.91 L483.68 157.88 L483.78 152.69 L483.89 147.36 L483.99 141.93 L484.10 136.43 L484.20 130.90 L484.31 125.37 L484.43 119.87 L484.55 114.44 L484.66 109.11 L484.78 103.92 L484.90 98.89 L485.03 94.06 L485.17 89.46 L485.32 85.11 L485.46 81.05 L485.61 77.29 L485.80 73.86 L485.99 70.79 L486.18 68.08 L486.41 65.77 L486.63 63.85 L486.85 62.35 L487.05 61.27 L487.23 60.62 L487.40 60.40 L487.64 60.58 L487.89 61.11 L488.15 61.99 L488.43 63.21 L488.73 64.78 L489.01 66.67 L489.22 68.87 L489.43 71.38 L489.64 74.18 L489.85 77.24 L490.07 80.56 L490.30 84.10 L490.53 87.86 L490.76 91.80 L490.99 95.90 L491.22 100.13 L491.47 104.48 L491.72 108.91 L491.97 113.39 L492.22 117.90 L492.48 122.41 L492.75 126.89 L493.02 131.32 L493.29 135.67 L493.56 139.90 L493.85 144.00 L494.16 147.94 L494.46 151.70 L494.75 155.24 L495.03 158.56 L495.20 161.62 L495.38 164.42 L495.57 166.93 L495.72 169.13 L495.80 171.02 L495.91 172.59 L496.04 173.81 L496.20 174.69 L496.38 175.22 L496.60 175.40 L496.78 175.21 L496.97 174.64 L497.17 173.68 L497.37 172.36 L497.59 170.67 L497.82 168.63 L498.03 166.25 L498.24 163.54 L498.44 160.52 L498.65 157.21 L498.84 153.63 L499.00 149.80 L499.17 145.75 L499.33 141.49 L499.48 137.06 L499.60 132.49 L499.71 127.80 L499.83 123.01 L499.94 118.17 L500.05 113.30 L500.17 108.43 L500.30 103.59 L500.42 98.80 L500.55 94.11 L500.67 89.54 L500.80 85.11 L500.94 80.85 L501.10 76.80 L501.25 72.97 L501.41 69.39 L501.57 66.08 L501.78 63.06 L501.98 60.35 L502.18 57.97 L502.43 55.93 L502.67 54.24 L502.91 52.92 L503.12 51.96 L503.32 51.39 L503.50 51.20 L503.78 51.40 L504.08 52.00 L504.39 53.00 L504.72 54.39 L505.07 56.16 L505.40 58.30 L505.66 60.79 L505.91 63.63 L506.16 66.80 L506.40 70.27 L506.66 74.02 L506.93 78.04 L507.21 82.29 L507.48 86.75 L507.75 91.39 L508.03 96.18 L508.32 101.10 L508.62 106.12 L508.91 111.19 L509.21 116.30 L509.52 121.41 L509.84 126.48 L510.16 131.50 L510.48 136.42 L510.79 141.21 L511.14 145.85 L511.50 150.31 L511.86 154.56 L512.21 158.58 L512.54 162.33 L512.75 165.80 L512.96 168.97 L513.18 171.81 L513.36 174.30 L513.45 176.44 L513.58 178.21 L513.73 179.60 L513.92 180.60 L514.14 181.20 L514.40 181.40 L514.58 181.20 L514.78 180.60 L514.98 179.61 L515.20 178.22 L515.42 176.46 L515.66 174.32 L515.87 171.83 L516.08 169.00 L516.30 165.84 L516.51 162.38 L516.70 158.63 L516.87 154.63 L517.04 150.39 L517.21 145.94 L517.37 141.31 L517.49 136.52 L517.60 131.61 L517.72 126.61 L517.84 121.55 L517.95 116.45 L518.08 111.35 L518.21 106.29 L518.33 101.29 L518.46 96.38 L518.59 91.59 L518.72 86.96 L518.87 82.51 L519.03 78.27 L519.19 74.27 L519.35 70.52 L519.51 67.06 L519.73 63.90 L519.94 61.07 L520.14 58.58 L520.40 56.44 L520.65 54.68 L520.89 53.29 L521.00 52.80" fill="none" stroke="#4c72b0" stroke-width="1.15" stroke-linejoin="round" stroke-linecap="butt"/>
<g font-size="10.3px" fill="#1c1c1c" stroke="#1c1c1c" stroke-width="0.22"><text x="58.20" y="277.8" text-anchor="middle" transform="rotate(0.2 58.20 277.8)">0</text><text x="150.86" y="277.8" text-anchor="middle" transform="rotate(0.2 150.86 277.8)">200</text><text x="243.52" y="277.8" text-anchor="middle" transform="rotate(0.2 243.52 277.8)">400</text><text x="336.18" y="277.8" text-anchor="middle" transform="rotate(0.2 336.18 277.8)">600</text><text x="428.84" y="277.8" text-anchor="middle" transform="rotate(0.2 428.84 277.8)">800</text><text x="521.50" y="277.8" text-anchor="middle" transform="rotate(0.2 521.50 277.8)">1000</text><text x="30.5" y="246.20" text-anchor="end" transform="rotate(0.2 30.5 246.20)">100</text><text x="30.5" y="215.27" text-anchor="end" transform="rotate(0.2 30.5 215.27)">200</text><text x="30.5" y="184.34" text-anchor="end" transform="rotate(0.2 30.5 184.34)">300</text><text x="30.5" y="153.41" text-anchor="end" transform="rotate(0.2 30.5 153.41)">400</text><text x="30.5" y="122.48" text-anchor="end" transform="rotate(0.2 30.5 122.48)">500</text><text x="30.5" y="91.55" text-anchor="end" transform="rotate(0.2 30.5 91.55)">600</text><text x="30.5" y="60.62" text-anchor="end" transform="rotate(0.2 30.5 60.62)">700</text><text x="30.5" y="29.69" text-anchor="end" transform="rotate(0.2 30.5 29.69)">800</text></g>
<text x="289.4" y="13.55" transform="rotate(0.15 289.4 13.55)" text-anchor="middle" font-size="11.3px" fill="#1c1c1c" stroke="#1c1c1c" stroke-width="0.22">Smoothed data</text>
<text x="289.6" y="286.1" transform="rotate(0.2 289.6 286.1)" text-anchor="middle" font-size="5.8px" fill="#1c1c1c" stroke="#1c1c1c" stroke-width="0.22">Samples</text>
<text transform="translate(9.8,141.3) rotate(-89.8)" text-anchor="middle" font-size="5.35px" fill="#1c1c1c" stroke="#1c1c1c" stroke-width="0.22">Height</text>
<rect x="455.4" y="21.6" width="83.2" height="18" rx="1.5" ry="1.5" fill="#eaeaf2" fill-opacity="0.8" stroke="#cccccc" stroke-width="0.5"/>
<line x1="459.4" y1="29.65" x2="480.6" y2="29.65" stroke="#4c72b0" stroke-width="0.85"/>
<text x="489" y="33.6" transform="rotate(0.2 489 33.6)" font-size="10.4px" fill="#1c1c1c" stroke="#1c1c1c" stroke-width="0.22">smoothed</text>
</svg>
</body></html>
